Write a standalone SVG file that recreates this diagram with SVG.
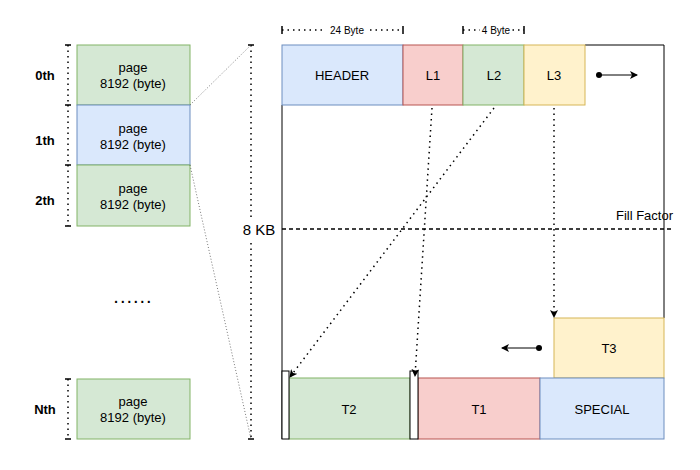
<svg xmlns="http://www.w3.org/2000/svg" width="700" height="470" viewBox="0 0 700 470">
<defs>
<style>
text{font-family:"Liberation Sans",Arial,sans-serif;font-size:13px;fill:#000;text-anchor:middle;dominant-baseline:central}
.b{font-weight:bold}
.dot{stroke:#000;stroke-width:1.5;stroke-dasharray:1.5 4;fill:none}
.thin{stroke:#555;stroke-width:0.8;stroke-dasharray:1 2;fill:none}
.g{fill:#d5e8d4;stroke:#82b366}
.bl{fill:#dae8fc;stroke:#6c8ebf}
.r{fill:#f8cecc;stroke:#b85450}
.y{fill:#fff2cc;stroke:#d6b656}
</style>
<marker id="a" markerWidth="8" markerHeight="8" refX="7" refY="4" orient="auto" markerUnits="userSpaceOnUse"><path d="M0,0L8,4L0,8L2,4z" fill="#000"/></marker>
<marker id="c" markerWidth="6" markerHeight="6" refX="3" refY="3" markerUnits="userSpaceOnUse"><circle cx="3" cy="3" r="3" fill="#000"/></marker>
</defs>
<g id="pages">
<g id="p0"><rect class="g" x="77" y="45" width="113" height="60"/><text x="133" y="67">page</text><text x="133" y="83">8192 (byte)</text><text class="b" x="45" y="75">0th</text></g>
<g id="p1"><rect class="bl" x="77" y="105" width="113" height="60"/><text x="133" y="128">page</text><text x="133" y="144">8192 (byte)</text><text class="b" x="45" y="140">1th</text></g>
<g id="p2"><rect class="g" x="77" y="165" width="113" height="61"/><text x="133" y="188">page</text><text x="133" y="204">8192 (byte)</text><text class="b" x="45" y="200">2th</text></g>
<g id="pn"><rect class="g" x="77" y="379" width="113" height="60"/><text x="133" y="401">page</text><text x="133" y="417">8192 (byte)</text><text class="b" x="45" y="409">Nth</text></g>
<text x="133" y="296" style="font-size:20px;letter-spacing:1px">......</text>
</g>
<g id="dims" stroke="#000">
<path class="dot" d="M68,45V105M68,105V165M68,165V226M68,379V439"/>
<path d="M65,45h6M65,105h6M65,165h6M65,226h6M65,379h6M65,439h6" stroke-width="1.5"/>
<path class="dot" d="M251,45V439"/>
<path d="M248,45h6M248,439h6" stroke-width="1.5"/>
<path class="dot" d="M282,30H403M463,30H524"/>
<path d="M282,26v8M403,26v8M463,26v8M524,26v8" stroke-width="1.5"/>
</g>
<g id="dimlabels" style="font-size:10px">
<rect x="326" y="24" width="42" height="12" fill="#fff"/>
<text x="347" y="30" style="font-size:10px">24 Byte</text>
<rect x="480" y="24" width="32" height="12" fill="#fff"/>
<text x="496" y="30" style="font-size:10px">4 Byte</text>
</g>
<g id="frame" fill="none" stroke="#000">
<path d="M585,45H664V318M282,105V439"/>
</g>
<g id="header"><rect class="bl" x="282" y="45" width="121" height="60"/><text x="342" y="75">HEADER</text></g>
<g id="L1"><rect class="r" x="403" y="45" width="60" height="60"/><text x="433" y="75">L1</text></g>
<g id="L2"><rect class="g" x="463" y="45" width="61" height="60"/><text x="494" y="75">L2</text></g>
<g id="L3"><rect class="y" x="524" y="45" width="61" height="60"/><text x="554" y="75">L3</text></g>
<g id="T3"><rect class="y" x="554" y="318" width="110" height="60"/><text x="609" y="348">T3</text></g>
<g id="T2"><rect class="g" x="289" y="378" width="121" height="61"/><text x="349" y="409">T2</text></g>
<g id="T1"><rect class="r" x="418" y="378" width="122" height="61"/><text x="479" y="409">T1</text></g>
<g id="SPECIAL"><rect class="bl" x="540" y="378" width="124" height="61"/><text x="602" y="409">SPECIAL</text></g>
<g id="slots" fill="#fff" stroke="#000"><rect x="282" y="371" width="7" height="68"/><rect x="410" y="371" width="8" height="68"/></g>
<g id="fill">
<path d="M282,229H674" stroke="#000" stroke-width="1.5" stroke-dasharray="4 3"/>
<text x="673" y="215" style="text-anchor:end">Fill Factor</text>
<rect x="240" y="218" width="38" height="22" fill="#fff"/>
<text x="259" y="229" style="font-size:15px">8 KB</text>
</g>
<g id="connectors">
<path class="thin" d="M190,105L251,45M190,165L251,439"/>
<path class="dot" d="M432,108L415,376" marker-end="url(#a)"/>
<path class="dot" d="M494,108L290,377" marker-end="url(#a)"/>
<path class="dot" d="M554,108V317" marker-end="url(#a)"/>
<path d="M599,75H637" stroke="#000" marker-start="url(#c)" marker-end="url(#a)"/>
<path d="M539,348H502" stroke="#000" marker-start="url(#c)" marker-end="url(#a)"/>
</g>
</svg>
